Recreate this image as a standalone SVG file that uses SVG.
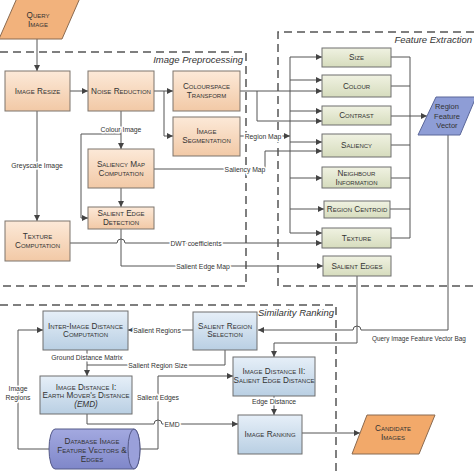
<svg xmlns="http://www.w3.org/2000/svg" width="474" height="474" viewBox="0 0 474 474">
<defs>
<linearGradient id="gO" x1="0" y1="0" x2="0" y2="1"><stop offset="0" stop-color="#fce9d8"/><stop offset="1" stop-color="#f2c9a6"/></linearGradient>
<linearGradient id="gG" x1="0" y1="0" x2="0" y2="1"><stop offset="0" stop-color="#f0f2e2"/><stop offset="1" stop-color="#d6dcbd"/></linearGradient>
<linearGradient id="gB" x1="0" y1="0" x2="0" y2="1"><stop offset="0" stop-color="#e6eff8"/><stop offset="1" stop-color="#b9cfe3"/></linearGradient>
<linearGradient id="gP" x1="0" y1="0" x2="0" y2="1"><stop offset="0" stop-color="#a3a9e0"/><stop offset="1" stop-color="#7f87c9"/></linearGradient>
<marker id="ar" markerUnits="userSpaceOnUse" markerWidth="6" markerHeight="6" refX="6" refY="3" orient="auto"><path d="M0,0 L6,3 L0,6 z" fill="#444"/></marker>
</defs>
<style>
.o{fill:url(#gO);stroke:#7d746c;stroke-width:1}
.g{fill:url(#gG);stroke:#6f6f6f;stroke-width:1}
.b{fill:url(#gB);stroke:#6f6f6f;stroke-width:1}
.t{font-family:"Liberation Sans",Arial,sans-serif;font-size:8.2px;font-variant:small-caps;fill:#333;text-anchor:middle}
.n{font-family:"Liberation Sans",Arial,sans-serif;font-size:7.5px;fill:#333;text-anchor:middle}
.l{font-family:"Liberation Sans",Arial,sans-serif;font-size:6.8px;fill:#333;text-anchor:middle;paint-order:stroke;stroke:#fff;stroke-width:3px;stroke-linejoin:round}
.s{font-family:"Liberation Sans",Arial,sans-serif;font-size:9.5px;font-style:italic;fill:#333;text-anchor:end}
.c path{fill:none;stroke:#555;stroke-width:1}
.a{marker-end:url(#ar)}
.d{fill:none;stroke:#555;stroke-width:1.5;stroke-dasharray:8,5}
</style>

<g id="boundaries">
<path class="d" d="M0,52 H246 V286 H0"/>
<text class="s" x="243" y="63">Image Preprocessing</text>
<path class="d" d="M474,32 H278 V286 H474"/>
<text class="s" x="472" y="43">Feature Extraction</text>
<path class="d" d="M0,305 H336 V474"/>
<text class="s" x="334" y="316">Similarity Ranking</text>
</g>

<g id="connectors" class="c">
<path class="a" d="M37,39 V71"/>
<path class="a" d="M70,91 H88"/>
<path class="a" d="M154,91 H173"/>
<path class="a" d="M164,91 V136 H173"/>
<path class="a" d="M121,111 V149"/>
<path class="a" d="M121,134 H81 V218 H88"/>
<path class="a" d="M37,111 V221"/>
<path class="a" d="M121,188 V207"/>
<path class="a" d="M154,169 H265 V151 H322"/>
<path class="a" d="M240,136 H290"/>
<path d="M290,57 V233"/>
<path class="a" d="M290,57 H322"/>
<path class="a" d="M290,80 H322"/>
<path class="a" d="M290,111 H322"/>
<path class="a" d="M290,142 H322"/>
<path class="a" d="M290,178 H322"/>
<path class="a" d="M290,209 H324"/>
<path class="a" d="M290,233 H322"/>
<path class="a" d="M240,91 H322"/>
<path class="a" d="M257,91 V121 H322"/>
<path class="a" d="M70,243 H117 A4,4 0 0 1 125,243 H322"/>
<path class="a" d="M121,229 V266 H323"/>
<path d="M391,57 H410 V238 H391"/>
<path d="M391,86 H410"/>
<path d="M391,145 H410"/>
<path d="M391,178 H410"/>
<path d="M390,209 H410"/>
<path class="a" d="M391,116 H427"/>
<path class="a" d="M448,135 V330 H361 A4,4 0 0 0 353,330 H258"/>
<path class="a" d="M357,276 V343 H274 V357"/>
<path class="a" d="M193,330 H128"/>
<path d="M225,350 V365 H87"/>
<path class="a" d="M87,350 V376"/>
<path class="a" d="M49,449 H18 V330 H43"/>
<path class="a" d="M140,449 H158 V376 H233"/>
<path class="a" d="M87,414 V424 H154 A4,4 0 0 1 162,424 H238"/>
<path class="a" d="M274,396 V415"/>
<path class="a" d="M302,433 H360"/>
</g>

<g id="labels">
<text class="l" x="121" y="132">Colour Image</text>
<text class="l" x="37" y="168">Greyscale Image</text>
<text class="l" x="263" y="138.5">Region Map</text>
<text class="l" x="245" y="171.5">Saliency Map</text>
<text class="l" x="196" y="245.5">DWT coefficients</text>
<text class="l" x="203" y="268.5">Salient Edge Map</text>
<text class="l" x="372" y="340.5" style="text-anchor:start;font-size:6.4px">Query Image Feature Vector Bag</text>
<text class="l" x="157" y="332.5">Salient Regions</text>
<text class="l" x="87" y="359.5">Ground Distance Matrix</text>
<text class="l" x="158" y="367.5">Salient Region Size</text>
<text class="l" x="18" y="390.5">Image</text>
<text class="l" x="18" y="399.5">Regions</text>
<text class="l" x="158" y="399.5">Salient Edges</text>
<text class="l" x="172" y="426.5">EMD</text>
<text class="l" x="274" y="403.5">Edge Distance</text>
</g>

<g id="query-image">
<polygon points="17,-2 80,-2 62,39 -1,39" fill="#f2b27c" stroke="#8a6a50"/>
<text class="t" x="38" y="18">Query</text>
<text class="t" x="38" y="27">Image</text>
</g>
<g id="image-resize"><rect class="o" x="5" y="71" width="65" height="40"/><text class="t" x="37.5" y="94">Image Resize</text></g>
<g id="noise-reduction"><rect class="o" x="88" y="71" width="66" height="40"/><text class="t" x="121" y="94">Noise Reduction</text></g>
<g id="colourspace-transform"><rect class="o" x="173" y="71" width="67" height="40"/><text class="t" x="206.5" y="89">Colourspace</text><text class="t" x="206.5" y="98">Transform</text></g>
<g id="image-segmentation"><rect class="o" x="173" y="117" width="67" height="39"/><text class="t" x="206.5" y="134">Image</text><text class="t" x="206.5" y="143">Segmentation</text></g>
<g id="saliency-map-computation"><rect class="o" x="88" y="149" width="66" height="39"/><text class="t" x="121" y="167">Saliency Map</text><text class="t" x="121" y="176">Computation</text></g>
<g id="salient-edge-detection"><rect class="o" x="88" y="207" width="66" height="22"/><text class="t" x="121" y="216">Salient Edge</text><text class="t" x="121" y="225">Detection</text></g>
<g id="texture-computation"><rect class="o" x="5" y="221" width="65" height="40"/><text class="t" x="37.5" y="239">Texture</text><text class="t" x="37.5" y="248">Computation</text></g>

<g id="size"><rect class="g" x="322" y="48" width="69" height="19"/><text class="t" x="356.5" y="60">Size</text></g>
<g id="colour"><rect class="g" x="322" y="75" width="69" height="22"/><text class="t" x="356.5" y="89">Colour</text></g>
<g id="contrast"><rect class="g" x="322" y="106" width="69" height="19"/><text class="t" x="356.5" y="118">Contrast</text></g>
<g id="saliency"><rect class="g" x="322" y="134" width="69" height="23"/><text class="t" x="356.5" y="148">Saliency</text></g>
<g id="neighbour-information"><rect class="g" x="322" y="167" width="69" height="21"/><text class="t" x="356.5" y="176">Neighbour</text><text class="t" x="356.5" y="185">Information</text></g>
<g id="region-centroid"><rect class="g" x="324" y="201" width="66" height="17"/><text class="t" x="357" y="212">Region Centroid</text></g>
<g id="texture"><rect class="g" x="322" y="228" width="69" height="20"/><text class="t" x="356.5" y="241">Texture</text></g>
<g id="salient-edges"><rect class="g" x="323" y="256" width="68" height="20"/><text class="t" x="357" y="269">Salient Edges</text></g>

<g id="region-feature-vector">
<polygon points="436,97 476,97 460,135 418,135" fill="#8e9dd6" stroke="#5a6699"/>
<text class="n" x="447" y="109">Region</text>
<text class="n" x="447" y="118.5">Feature</text>
<text class="n" x="447" y="128">Vector</text>
</g>

<g id="inter-image-distance"><rect class="b" x="43" y="311" width="85" height="39"/><text class="t" x="85.5" y="328.5">Inter-Image Distance</text><text class="t" x="85.5" y="337">Computation</text></g>
<g id="salient-region-selection"><rect class="b" x="193" y="312" width="64" height="38"/><text class="t" x="225" y="328.5">Salient Region</text><text class="t" x="225" y="337">Selection</text></g>
<g id="image-distance-1"><rect class="b" x="40" y="376" width="92" height="38"/><text class="t" x="86" y="389.5">Image Distance I:</text><text class="t" x="86" y="398">Earth Mover's Distance</text><text class="t" x="86" y="406.5" style="font-style:italic">(EMD)</text></g>
<g id="image-distance-2"><rect class="b" x="233" y="357" width="82" height="39"/><text class="t" x="274" y="374">Image Distance II:</text><text class="t" x="274" y="383">Salient Edge Distance</text></g>
<g id="image-ranking"><rect class="b" x="238" y="415" width="64" height="39"/><text class="t" x="270" y="437">Image Ranking</text></g>
<g id="database">
<path d="M55,429 H134 A6,20 0 0 1 134,469 H55 A6,20 0 0 1 55,429 Z" fill="url(#gP)" stroke="#555a88"/>
<ellipse cx="134" cy="449" rx="6" ry="20" fill="#9aa0da" stroke="#555a88"/>
<text class="t" x="92" y="443.5">Database Image</text>
<text class="t" x="92" y="452.5">Feature Vectors &amp;</text>
<text class="t" x="92" y="461.5">Edges</text>
</g>
<g id="candidate-images">
<polygon points="367,415 435,415 419,454 352,454" fill="#f2a96a" stroke="#8a6a50"/>
<text class="t" x="393" y="431">Candidate</text>
<text class="t" x="393" y="440">Images</text>
</g>
</svg>
